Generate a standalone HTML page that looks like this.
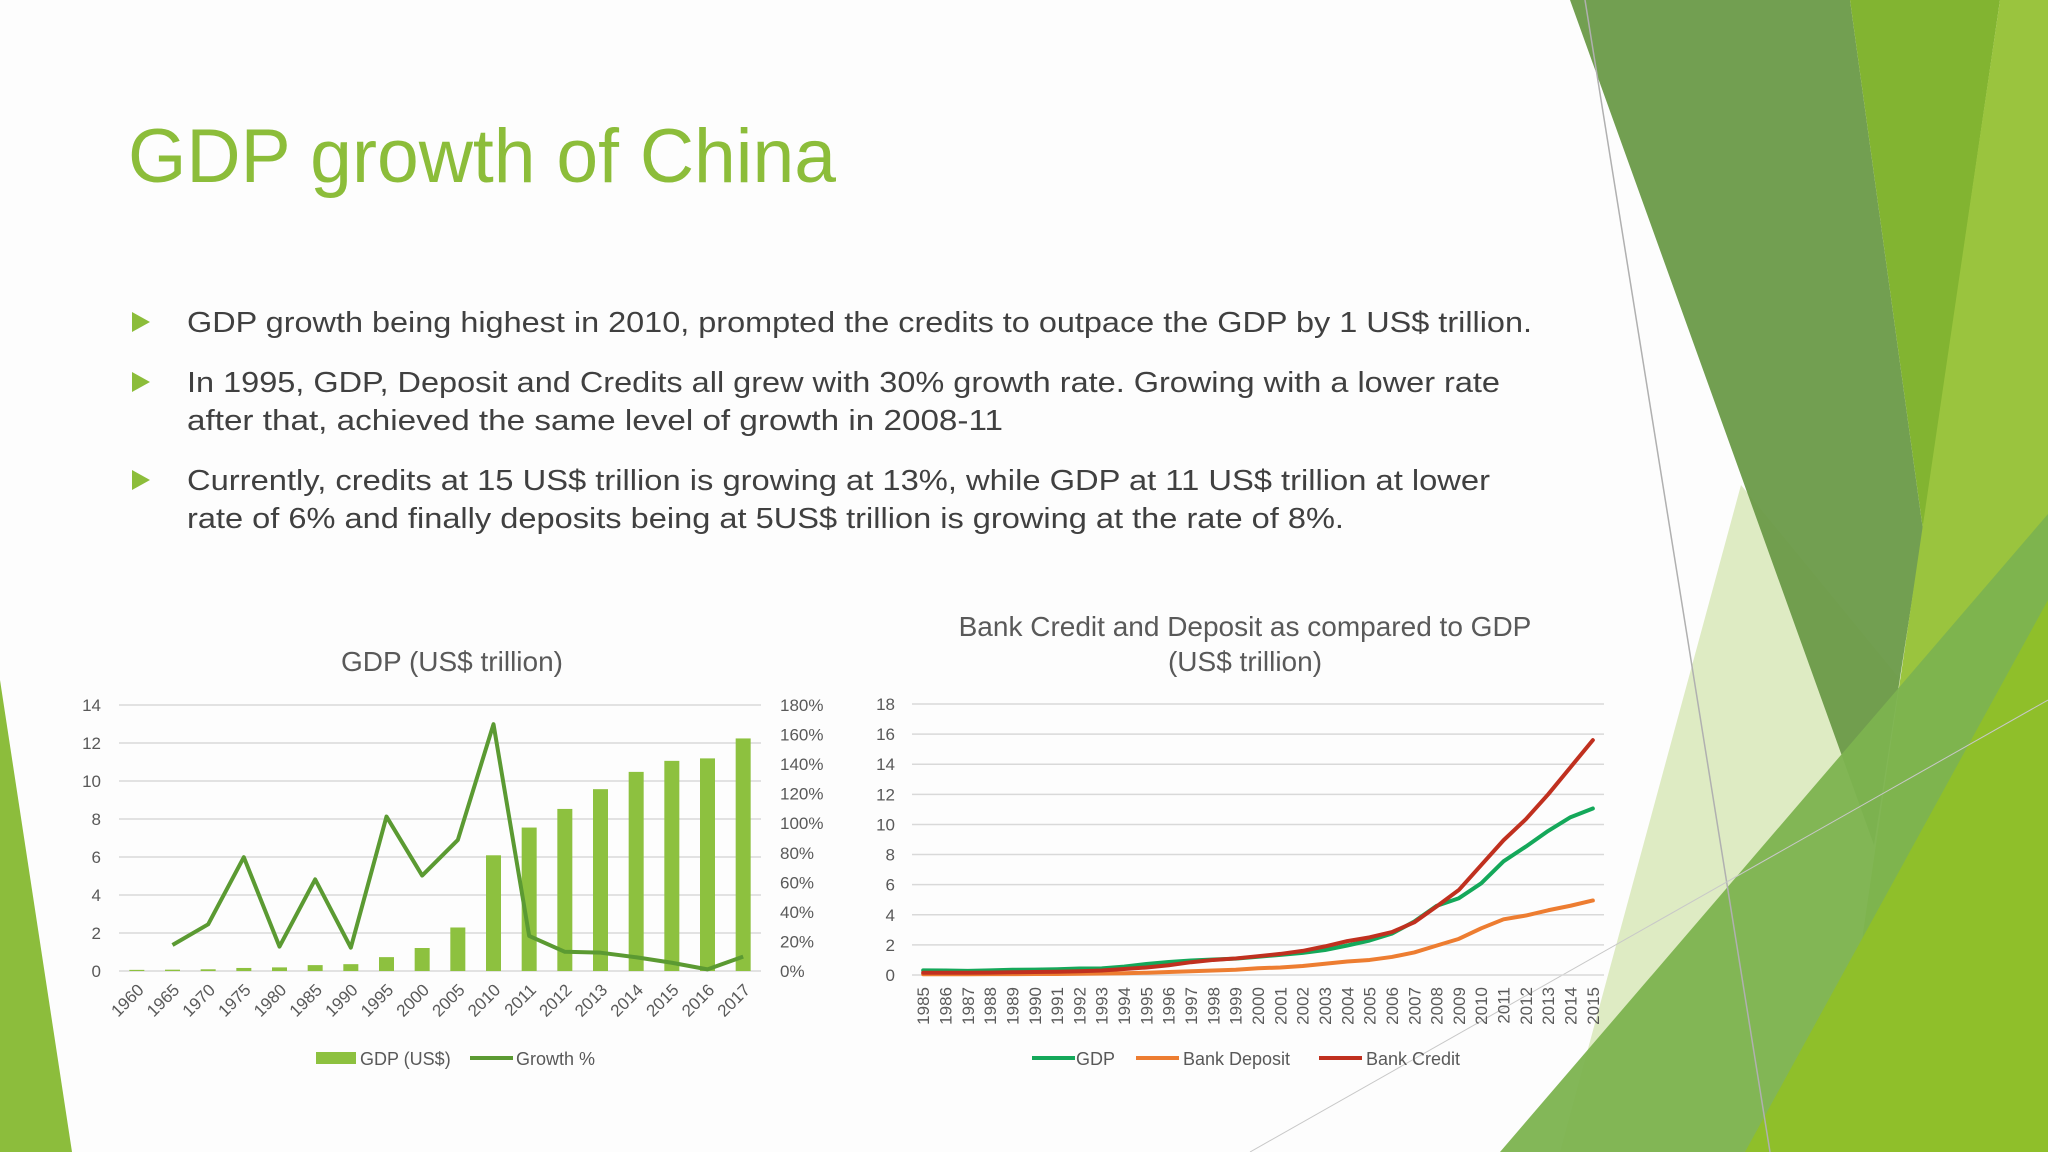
<!DOCTYPE html>
<html><head><meta charset="utf-8"><style>
html,body{margin:0;padding:0;background:#fdfdfd;}
svg{display:block;font-family:"Liberation Sans",sans-serif;}
</style></head><body>
<svg id="s" width="2048" height="1152" viewBox="0 0 2048 1152" xmlns="http://www.w3.org/2000/svg">
<rect width="2048" height="1152" fill="#fdfdfd"/>
<g>
<polygon points="0,680 72,1152 0,1152" fill="#8cbd3c"/>
<polygon points="1560,1152 1741,485 1958,750 1800,1152" fill="#d6e6b4" opacity="0.8"/>
<polygon points="1570,0 1850,0 1923,530 1874,845" fill="#6a9a48" opacity="0.95"/>
<polygon points="1850,0 2000,0 1923,530" fill="#82b431"/>
<polygon points="2000,0 2048,0 2048,1152 1840,1152 1863,933" fill="#9ac43e"/>
<polygon points="1500,1152 2048,514 2048,1152" fill="#7cb34f" opacity="0.95"/>
<polygon points="1745,1152 2048,600 2048,1152" fill="#8fbf2a"/>
<line x1="1585" y1="0" x2="1770" y2="1152" stroke="#b0b0b0" stroke-width="1.5"/>
<line x1="1250" y1="1152" x2="2048" y2="700" stroke="#c8c8c8" stroke-width="1"/>
</g>
<text x="128" y="182" font-size="76" fill="#8cbd3a" textLength="708" lengthAdjust="spacingAndGlyphs">GDP growth of China</text>
<g font-size="29" fill="#404040">
<polygon points="132,312 150,322 132,332" fill="#8cbd3a"/>
<polygon points="132,372 150,382 132,392" fill="#8cbd3a"/>
<polygon points="132,470 150,480 132,490" fill="#8cbd3a"/>
<text x="187" y="332" textLength="1345" lengthAdjust="spacingAndGlyphs">GDP growth being highest in 2010, prompted the credits to outpace the GDP by 1 US$ trillion.</text>
<text x="187" y="392" textLength="1313" lengthAdjust="spacingAndGlyphs">In 1995, GDP, Deposit and Credits all grew with 30% growth rate. Growing with a lower rate</text>
<text x="187" y="430" textLength="816" lengthAdjust="spacingAndGlyphs">after that, achieved the same level of growth in 2008-11</text>
<text x="187" y="490" textLength="1303" lengthAdjust="spacingAndGlyphs">Currently, credits at 15 US$ trillion is growing at 13%, while GDP at 11 US$ trillion at lower</text>
<text x="187" y="528" textLength="1157" lengthAdjust="spacingAndGlyphs">rate of 6% and finally deposits being at 5US$ trillion is growing at the rate of 8%.</text>
</g>
<g id="c1">
<text x="452" y="671" font-size="28" fill="#595959" text-anchor="middle">GDP (US$ trillion)</text>
</g>
<g id="c2">
<text x="1245" y="636" font-size="28" fill="#595959" text-anchor="middle">Bank Credit and Deposit as compared to GDP</text>
<text x="1245" y="671" font-size="28" fill="#595959" text-anchor="middle">(US$ trillion)</text>
</g>
</svg>
<script>
const c1Years=["1960","1965","1970","1975","1980","1985","1990","1995","2000","2005","2010","2011","2012","2013","2014","2015","2016","2017"];
const c1Gdp=[0.06,0.07,0.09,0.16,0.19,0.31,0.36,0.73,1.21,2.29,6.09,7.55,8.53,9.57,10.48,11.06,11.19,12.24];
const c1Growth=[null,17.6,31.6,77,16.5,62,15.8,104.5,64.6,88.7,167,23.7,13,12.4,9.3,5.6,1.1,9.7];
const c1LeftTicks=[0,2,4,6,8,10,12,14];
const c1RightTicks=[0,20,40,60,80,100,120,140,160,180];
const c2Years=[];for(let y=1985;y<=2015;y++)c2Years.push(String(y));
const c2Gdp=[0.31,0.30,0.27,0.31,0.35,0.36,0.38,0.43,0.44,0.56,0.73,0.86,0.96,1.03,1.09,1.21,1.34,1.47,1.66,1.96,2.29,2.75,3.55,4.59,5.1,6.09,7.55,8.53,9.57,10.48,11.06];
const c2Deposit=[0.05,0.05,0.05,0.06,0.06,0.07,0.07,0.08,0.1,0.12,0.15,0.2,0.25,0.3,0.35,0.45,0.5,0.6,0.75,0.9,1.0,1.2,1.5,1.95,2.4,3.1,3.7,3.95,4.3,4.6,4.95];
const c2Credit=[0.15,0.15,0.15,0.16,0.18,0.2,0.22,0.25,0.3,0.4,0.5,0.65,0.85,1.0,1.1,1.25,1.4,1.6,1.9,2.25,2.5,2.85,3.5,4.55,5.65,7.3,8.95,10.35,12.0,13.8,15.6];
const c2Ticks=[0,2,4,6,8,10,12,14,16,18];
const NS="http://www.w3.org/2000/svg";
function mk(parent,tag,attrs){const e=document.createElementNS(NS,tag);for(const k in attrs)e.setAttribute(k,attrs[k]);parent.appendChild(e);return e;}
// chart 1
(function(){
const g=document.getElementById('c1');
const L=119,R=761,T=705,B=971;
const bw=(R-L)/c1Years.length;
const xc=i=>L+bw*(i+0.5);
const yl=v=>B-(v/14)*(B-T);
const yr=v=>B-(v/180)*(B-T);
c1LeftTicks.forEach(t=>{
const ln=mk(g,'line',{x1:L,x2:R,y1:yl(t),y2:yl(t),stroke:'#d9d9d9','stroke-width':1.5});


const tx=mk(g,'text',{x:101,y:yl(t)+6,'font-size':17,fill:'#595959','text-anchor':'end'});tx.textContent=t;


});
c1RightTicks.forEach(t=>{
const tx=mk(g,'text',{x:780,y:yr(t)+6,'font-size':17,fill:'#595959'});tx.textContent=t+'%';


});
c1Gdp.forEach((v,i)=>{
const r=mk(g,'rect',{x:xc(i)-7.5,y:yl(v),width:15,height:B-yl(v),fill:'#8dc13f'});


});
let d='';c1Growth.forEach((v,i)=>{if(v===null)return;d+=(d?'L':'M')+xc(i)+','+yr(v);});
const p=mk(g,'path',{d:d,fill:'none',stroke:'#5b9a32','stroke-width':4,'stroke-linejoin':'round'});


c1Years.forEach((y,i)=>{
const tx=mk(g,'text',{x:0,y:0,'font-size':17,fill:'#595959','text-anchor':'end',transform:`translate(${xc(i)+8},${B+20}) rotate(-45)`});tx.textContent=y;


});
const s1=mk(g,'rect',{x:316,y:1052,width:40,height:12,fill:'#8dc13f'});


const t1=mk(g,'text',{x:360,y:1065,'font-size':18,fill:'#595959'});t1.textContent='GDP (US$)';


const s2=mk(g,'line',{x1:470,x2:513,y1:1058,y2:1058,stroke:'#5b9a32','stroke-width':4});


const t2=mk(g,'text',{x:516,y:1065,'font-size':18,fill:'#595959'});t2.textContent='Growth %';


})();
// chart 2
(function(){
const g=document.getElementById('c2');
const L=912,R=1604,T=704,B=975;
const bw=(R-L)/c2Years.length;
const xc=i=>L+bw*(i+0.5);
const y=v=>B-(v/18)*(B-T);
c2Ticks.forEach(t=>{
const ln=mk(g,'line',{x1:L,x2:R,y1:y(t),y2:y(t),stroke:'#d9d9d9','stroke-width':1.5});


const tx=mk(g,'text',{x:895,y:y(t)+6,'font-size':17,fill:'#595959','text-anchor':'end'});tx.textContent=t;


});
c2Years.forEach((yr,i)=>{
const tx=mk(g,'text',{x:0,y:0,'font-size':17,fill:'#595959','text-anchor':'end',transform:`translate(${xc(i)+6},${B+12}) rotate(-90)`});tx.textContent=yr;


});
const series=[[c2Deposit,'#ed7d31','deposit-line'],[c2Gdp,'#14a85a','gdp-line'],[c2Credit,'#c0301f','credit-line']];
series.forEach(s=>{
let d='';s[0].forEach((v,i)=>{d+=(i?'L':'M')+xc(i)+','+y(v);});
const p=mk(g,'path',{d:d,fill:'none',stroke:s[1],'stroke-width':4,'stroke-linejoin':'round','stroke-linecap':'round'});


});
const leg=[[1032,1076,'#14a85a','GDP'],[1136,1183,'#ed7d31','Bank Deposit'],[1319,1366,'#c0301f','Bank Credit']];
leg.forEach(l=>{
const sw=mk(g,'line',{x1:l[0],x2:l[0]+43,y1:1058,y2:1058,stroke:l[2],'stroke-width':4});


const tx=mk(g,'text',{x:l[1],y:1065,'font-size':18,fill:'#595959'});tx.textContent=l[3];


});
})();
</script>
</body></html>
